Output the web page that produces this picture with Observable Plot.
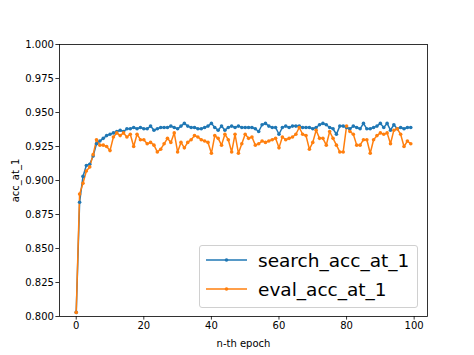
<!DOCTYPE html>
<html><head><meta charset="utf-8">
<script src="https://cdn.jsdelivr.net/npm/d3@7"></script>
<script src="https://cdn.jsdelivr.net/npm/@observablehq/plot@0.6"></script>
<style>
body{margin:0;background:#fff;}
#wrap{position:relative;width:474px;height:355px;}
.legend{position:absolute;left:199px;top:245px;width:219px;height:63px;box-sizing:border-box;border:1px solid #d0d0d0;border-radius:3px;background:rgba(255,255,255,0.8);font-family:'DejaVu Sans';font-size:18.5px;color:#000;}
.row{position:absolute;left:6px;height:22px;display:flex;align-items:center;}
.row svg{margin-right:11px;}
</style></head><body><div id="wrap"></div>
<script>
const epochs = d3.range(100);
const searchAcc = [
0.803,0.884,0.903,0.911,0.912,0.918,0.927,0.929,0.931,0.933,
0.934,0.935,0.936,0.937,0.936,0.938,0.938,0.939,0.938,0.939,
0.938,0.938,0.940,0.937,0.938,0.939,0.939,0.939,0.940,0.939,
0.938,0.940,0.942,0.940,0.939,0.939,0.938,0.938,0.939,0.940,
0.942,0.939,0.937,0.940,0.937,0.939,0.940,0.939,0.940,0.939,
0.939,0.939,0.939,0.938,0.936,0.941,0.942,0.940,0.939,0.939,
0.934,0.939,0.940,0.939,0.940,0.940,0.940,0.939,0.939,0.939,
0.938,0.939,0.941,0.942,0.941,0.939,0.938,0.934,0.940,0.940,
0.939,0.938,0.940,0.939,0.938,0.942,0.938,0.938,0.939,0.940,
0.942,0.939,0.942,0.937,0.941,0.938,0.939,0.938,0.939,0.939];
const evalAcc = [
0.803,0.890,0.898,0.907,0.910,0.919,0.930,0.926,0.926,0.925,
0.922,0.932,0.935,0.933,0.935,0.932,0.934,0.925,0.934,0.930,
0.930,0.927,0.928,0.926,0.921,0.923,0.927,0.931,0.928,0.935,
0.921,0.928,0.924,0.928,0.930,0.933,0.932,0.930,0.929,0.928,
0.920,0.933,0.931,0.926,0.934,0.930,0.921,0.934,0.920,0.927,
0.934,0.931,0.932,0.926,0.927,0.929,0.928,0.929,0.930,0.931,
0.924,0.932,0.930,0.931,0.932,0.934,0.939,0.934,0.933,0.923,
0.928,0.937,0.931,0.931,0.926,0.936,0.931,0.926,0.921,0.921,
0.940,0.936,0.934,0.926,0.926,0.930,0.930,0.920,0.930,0.933,
0.935,0.934,0.935,0.927,0.937,0.938,0.934,0.925,0.929,0.927];
const seriesNames = ["search_acc_at_1", "eval_acc_at_1"];
const seriesColors = ["#1f77b4", "#ff7f0e"];
const xTicks = [0, 20, 40, 60, 80, 100];
const yTicks = [0.800, 0.825, 0.850, 0.875, 0.900, 0.925, 0.950, 0.975, 1.000];
const xLabel = "n-th epoch";
const yLabel = "acc_at_1";

const data = [];
[searchAcc, evalAcc].forEach((arr, i) => arr.forEach((v, j) => data.push({epoch: epochs[j], value: v, series: seriesNames[i]})));

const chart = Plot.plot({
  width: 474, height: 355,
  marginLeft: 59, marginRight: 47, marginTop: 44, marginBottom: 39,
  x: {domain: [-4.95, 103.95]},
  y: {domain: [0.8, 1.0]},
  color: {domain: seriesNames, range: seriesColors},
  style: {fontFamily: "DejaVu Sans", fontSize: "10px", color: "#000", background: "#fff"},
  marks: [
    Plot.axisX({ticks: xTicks, tickSize: 3.6, tickPadding: 2, strokeWidth: 0.8, label: xLabel, labelAnchor: "center", labelArrow: "none", labelOffset: 30}),
    Plot.axisY({ticks: yTicks, tickFormat: d3.format(".3f"), tickSize: 3.6, tickPadding: 2, strokeWidth: 0.8, label: yLabel, labelAnchor: "center", labelArrow: "none", labelOffset: 48}),
    Plot.line(data, {x: "epoch", y: "value", z: "series", stroke: "series", strokeWidth: 1.5}),
    Plot.dot(data, {x: "epoch", y: "value", fill: "series", r: 1.8}),
    Plot.frame({stroke: "#000", strokeWidth: 0.8})
  ]
});
const wrap = document.getElementById("wrap");
wrap.appendChild(chart);

const legend = document.createElement("div");
legend.className = "legend";
seriesNames.forEach((name, i) => {
  const row = document.createElement("div");
  row.className = "row";
  row.style.top = (3 + i * 29) + "px";
  row.innerHTML = `<svg width="41" height="10"><line x1="0" y1="5" x2="41" y2="5" stroke="${seriesColors[i]}" stroke-width="1.5"/><circle cx="20.5" cy="5" r="1.8" fill="${seriesColors[i]}"/></svg><span>${name}</span>`;
  legend.appendChild(row);
});
wrap.appendChild(legend);
</script></body></html>
